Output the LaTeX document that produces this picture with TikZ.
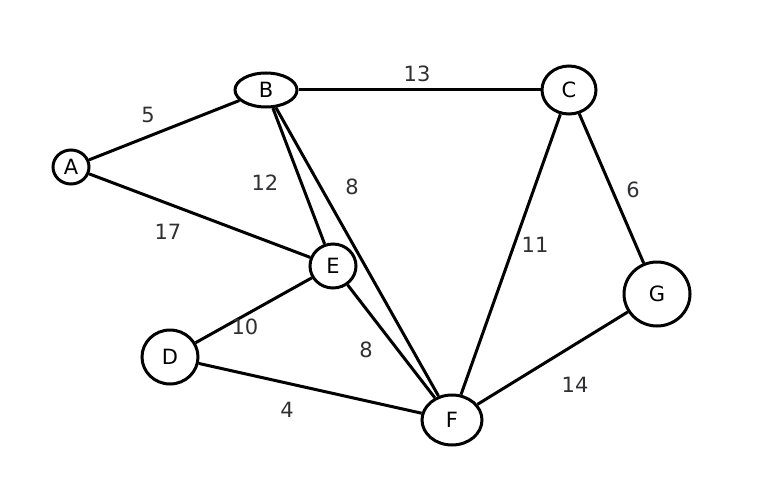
\documentclass[tikz,border=0pt]{standalone}
\usepackage{fontspec}
\setmainfont{DejaVu Sans}
\usetikzlibrary{shapes.geometric}
\begin{document}
\begin{tikzpicture}[x=1pt,y=-1pt,
 vert/.style={draw,line width=3pt,ellipse,inner sep=0pt,font=\fontsize{21}{21}\selectfont},
 edge/.style={line width=3pt},
 lab/.style={font=\fontsize{21}{21}\selectfont,text=black!90!cyan!80!black}]
\useasboundingbox (0,0) rectangle (775,476);
\node[vert,minimum width=36pt,minimum height=34pt] (A) at (71,167) {A};
\node[vert,minimum width=62pt,minimum height=34pt] (B) at (266,90) {B};
\node[vert,minimum width=54pt,minimum height=48pt] (C) at (569,90) {C};
\node[vert,minimum width=46pt,minimum height=44pt] (E) at (333,266) {E};
\node[vert,minimum width=56pt,minimum height=54pt] (D) at (170,357) {D};
\node[vert,minimum width=60pt,minimum height=50pt] (F) at (452,420) {F};
\node[vert,minimum width=66pt,minimum height=64pt] (G) at (657,294) {G};
\draw[edge] (A) -- (B);
\draw[edge] (A) -- (E);
\draw[edge] (B) -- (C);
\draw[edge] (B) -- (E);
\draw[edge] (B) -- (F);
\draw[edge] (C) -- (F);
\draw[edge] (C) -- (G);
\draw[edge] (E) -- (D);
\draw[edge] (E) -- (F);
\draw[edge] (D) -- (F);
\draw[edge] (G) -- (F);
\node[lab] (l1) at (148,115) {5};
\node[lab] (l2) at (417,74) {13};
\node[lab] (l3) at (265,183) {12};
\node[lab] (l4) at (352,187) {8};
\node[lab] (l5) at (168,232) {17};
\node[lab] (l6) at (535,245) {11};
\node[lab] (l7) at (633,190) {6};
\node[lab] (l8) at (245,327) {10};
\node[lab] (l9) at (366,350) {8};
\node[lab] (l10) at (287,410) {4};
\node[lab] (l11) at (575,385) {14};
\end{tikzpicture}
\end{document}
